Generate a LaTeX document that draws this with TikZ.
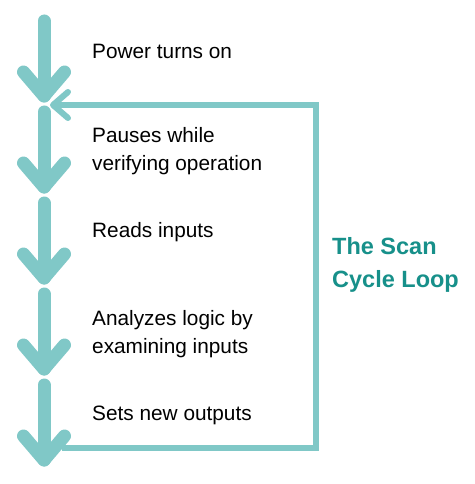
\documentclass[tikz,border=0pt]{standalone}
\usepackage{fontspec}
\setmainfont{Liberation Sans}
\definecolor{arrowteal}{HTML}{80C8C7}
\definecolor{titleteal}{HTML}{17908A}
\begin{document}
\begin{tikzpicture}[x=1pt,y=-1pt,
  bigarrow/.style={draw=arrowteal,line width=13pt,line cap=round,line join=round},
  loopline/.style={draw=arrowteal,line width=6pt,line join=miter},
  loophead/.style={draw=arrowteal,line width=6pt,line cap=round,line join=round},
  steptext/.style={anchor=base west,inner sep=0pt,font=\fontsize{20.8}{28}\selectfont,text=black},
  titletext/.style={anchor=base west,inner sep=0pt,font=\fontsize{23.5}{32}\selectfont\bfseries,text=titleteal}]
\useasboundingbox (0,0) rectangle (474,484);
\fill[white] (0,0) rectangle (474,484);
% big downward arrows
\foreach \k in {0,...,4}{
  \coordinate (s\k) at (44,{21+91*\k});
  \coordinate (t\k) at (44,{96+91*\k});
  \coordinate (l\k) at (23.5,{72+91*\k});
  \coordinate (r\k) at (64.5,{72+91*\k});
  \draw[bigarrow] (s\k) -- (t\k);
  \draw[bigarrow] (l\k) -- (t\k) -- (r\k);
}
% loop
\coordinate (lt) at (53,105);
\coordinate (ltu) at (68,92);
\coordinate (ltd) at (68,118);
\coordinate (tr) at (316,105);
\coordinate (br) at (316,448);
\coordinate (bl) at (62,448);
\draw[loopline] (lt) -- (tr) -- (br) -- (bl);
\draw[loophead] (ltu) -- (lt) -- (ltd);
% texts
\node[steptext] (p1) at (92,59) {Power turns on};
\node[steptext] (p2a) at (92,142) {Pauses while};
\node[steptext] (p2b) at (92,170) {verifying operation};
\node[steptext] (p3) at (92,237) {Reads inputs};
\node[steptext] (p4a) at (92,325) {Analyzes logic by};
\node[steptext] (p4b) at (92,353) {examining inputs};
\node[steptext] (p5) at (92,420) {Sets new outputs};
\node[titletext] (ta) at (332,254) {The Scan};
\node[titletext] (tb) at (332,287) {Cycle Loop};
\end{tikzpicture}
\end{document}
